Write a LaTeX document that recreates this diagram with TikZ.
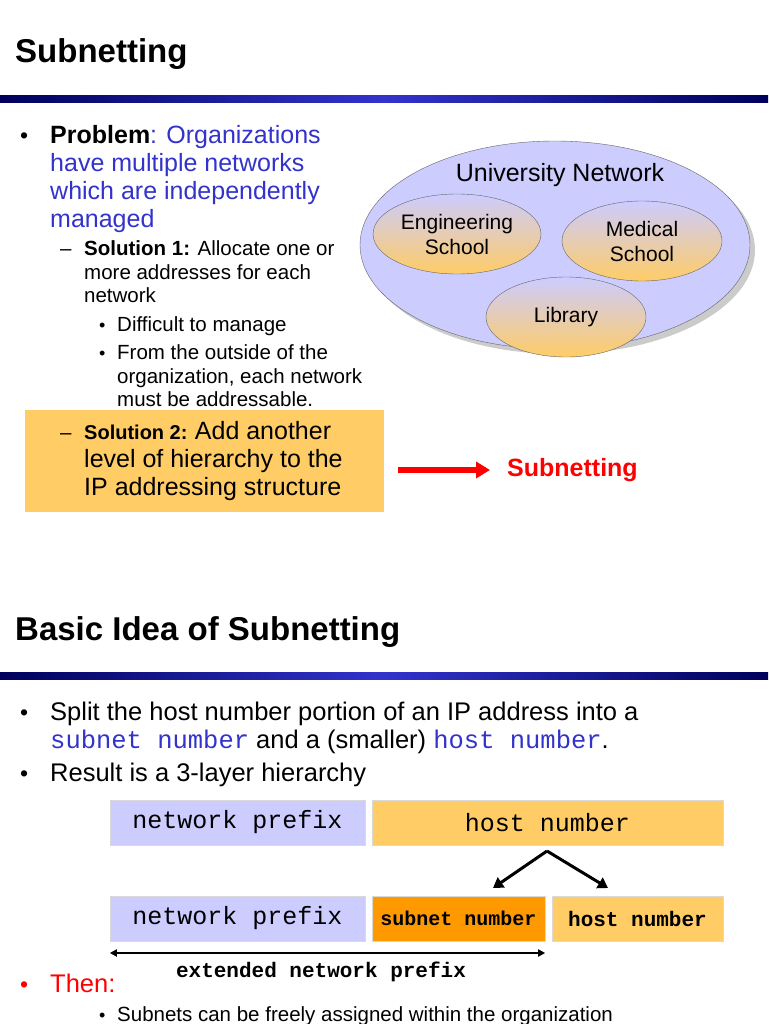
\documentclass[tikz,border=0pt]{standalone}
\usepackage{fontspec}
\setmainfont{Liberation Sans}
\setmonofont{Liberation Mono}
\usetikzlibrary{arrows.meta,shadows,shapes.geometric}
\definecolor{lav}{HTML}{CCCCFF}
\definecolor{org}{HTML}{FFCC66}
\definecolor{dorg}{HTML}{FF9900}
\definecolor{pblue}{HTML}{3333CC}
\definecolor{mblue}{HTML}{000099}
\begin{document}
\begin{tikzpicture}[x=1pt,y=-1pt,
  txt/.style={anchor=base west,inner sep=0pt,font=\fontsize{#1}{#1}\selectfont},
  title/.style={anchor=base west,inner sep=0pt,font=\fontsize{33}{33}\selectfont\bfseries},
  box/.style={draw=black!15,minimum height=45pt,inner sep=0pt,font=\fontsize{25}{25}\selectfont\ttfamily},
  sbox/.style={box,font=\fontsize{21}{21}\selectfont\ttfamily\bfseries},
  sub/.style={draw=black!60,ellipse,minimum width=160pt,minimum height=80pt,left color=lav,right color=org,shading angle=0,font=\fontsize{21}{25}\selectfont,align=center}
]
\useasboundingbox (0,0) rectangle (768,1024);
\fill[white] (0,0) rectangle (768,1024);
% rules
\shade[left color=mblue!60!black, right color=pblue] (0,96) rectangle (384,103);
\shade[left color=pblue, right color=mblue!60!black] (384,96) rectangle (768,103);
\shade[left color=mblue!60!black, right color=pblue] (0,672) rectangle (384,679);
\shade[left color=pblue, right color=mblue!60!black] (384,672) rectangle (768,679);
\node[title] (t1) at (15,63) {Subnetting};
\node[title] (t2) at (15,640) {Basic Idea of Subnetting};
% top text
\node[txt=23] (b1) at (20,144) {•};
\node[txt=25] (p1) at (50,144) {\textbf{Problem}\textcolor{pblue}{: Organizations}};
\node[txt=25,text=pblue] (p2) at (50,172) {have multiple networks};
\node[txt=25,text=pblue] (p3) at (50,200) {which are independently};
\node[txt=25,text=pblue] (p4) at (50,228) {managed};
\node[txt=20.5] (d1) at (60,255) {–};
\node[txt=20.5] (s1) at (84,255) {\textbf{Solution 1:} Allocate one or};
\node[txt=20.5] (s2) at (84,279) {more addresses for each};
\node[txt=20.5] (s3) at (84,302) {network};
\node[txt=18] (c1) at (99,331) {•};
\node[txt=20.5] (c2) at (117,331) {Difficult to manage};
\node[txt=18] (c3) at (99,359) {•};
\node[txt=20.5] (c4) at (117,359) {From the outside of the};
\node[txt=20.5] (c5) at (117,383) {organization, each network};
\node[txt=20.5] (c6) at (117,406) {must be addressable.};
\fill[org] (25,410) rectangle (384,512);
\node[txt=20.5] (d2) at (60,439) {–};
\node[txt=25] (e1) at (84,439) {\fontsize{20}{20}\selectfont\textbf{Solution 2: }\fontsize{25}{25}\selectfont Add another};
\node[txt=25] (e2) at (84,467) {level of hierarchy to the};
\node[txt=25] (e3) at (84,495) {IP addressing structure};
\coordinate (ra) at (398,470);
\node[txt=25,text=red,font=\fontsize{25}{25}\selectfont\bfseries] (sn) at (507,476) {Subnetting};
\draw[red,line width=6pt,-{Triangle[length=14pt,width=16pt]}] (ra) -- (490,470);
% ellipses
\node[draw=black!60,ellipse,fill=lav,minimum width=390pt,minimum height=208pt,drop shadow={shadow xshift=5pt,shadow yshift=-5pt,fill=black!40}] (un) at (555,245) {};
\node[font=\fontsize{25}{25}\selectfont] (ut) at (560,175) {University Network};
\node[sub] (en) at (457,234) {Engineering\\School};
\node[sub] (me) at (642,241) {Medical\\School};
\node[sub] (li) at (566,317) {Library};
% bottom text
\node[txt=23] (b2) at (20,720) {•};
\node[txt=25.5] (q1) at (50,720) {Split the host number portion of an IP address into a};
\node[txt=25.5] (q2) at (50,748) {\textcolor{pblue}{\ttfamily subnet number} and a (smaller) \textcolor{pblue}{\ttfamily host number}.};
\node[txt=23] (b3) at (20,781) {•};
\node[txt=25.5] (q3) at (50,781) {Result is a 3-layer hierarchy};
\node[box,fill=lav,minimum width=255pt] (n1) at (237.5,822.5) {network prefix};
\node[box,fill=org,minimum width=351pt] (h1) at (547.5,822.5) {host number};
\node[box,fill=lav,minimum width=255pt] (n2) at (237.5,918.5) {network prefix};
\node[sbox,fill=dorg,minimum width=173pt,font=\fontsize{20}{20}\selectfont\ttfamily\bfseries] (s2b) at (458.5,918.5) {subnet number};
\node[sbox,fill=org,minimum width=171pt] (h2) at (637.5,918.5) {host number};
\coordinate (ap) at (547,851);
\draw[line width=3pt,-{Triangle[length=10pt,width=12pt]}] (ap) -- (493,888);
\draw[line width=3pt,-{Triangle[length=10pt,width=12pt]}] (ap) -- (608,888);
\draw[line width=2pt,{Triangle[length=7pt,width=7pt]}-{Triangle[length=7pt,width=7pt]}] (n2.south west|-0,953) -- (s2b.south east|-0,953);
\node[font=\fontsize{21}{21}\selectfont\ttfamily\bfseries] (ex) at (321,972) {extended network prefix};
\node[txt=23,text=red] (b4) at (20,992) {•};
\node[txt=25.5,text=red] (th) at (50,992) {Then:};
\node[txt=18] (b5) at (99,1021) {•};
\node[txt=20.5] (q4) at (117,1021) {Subnets can be freely assigned within the organization};
\end{tikzpicture}
\end{document}
